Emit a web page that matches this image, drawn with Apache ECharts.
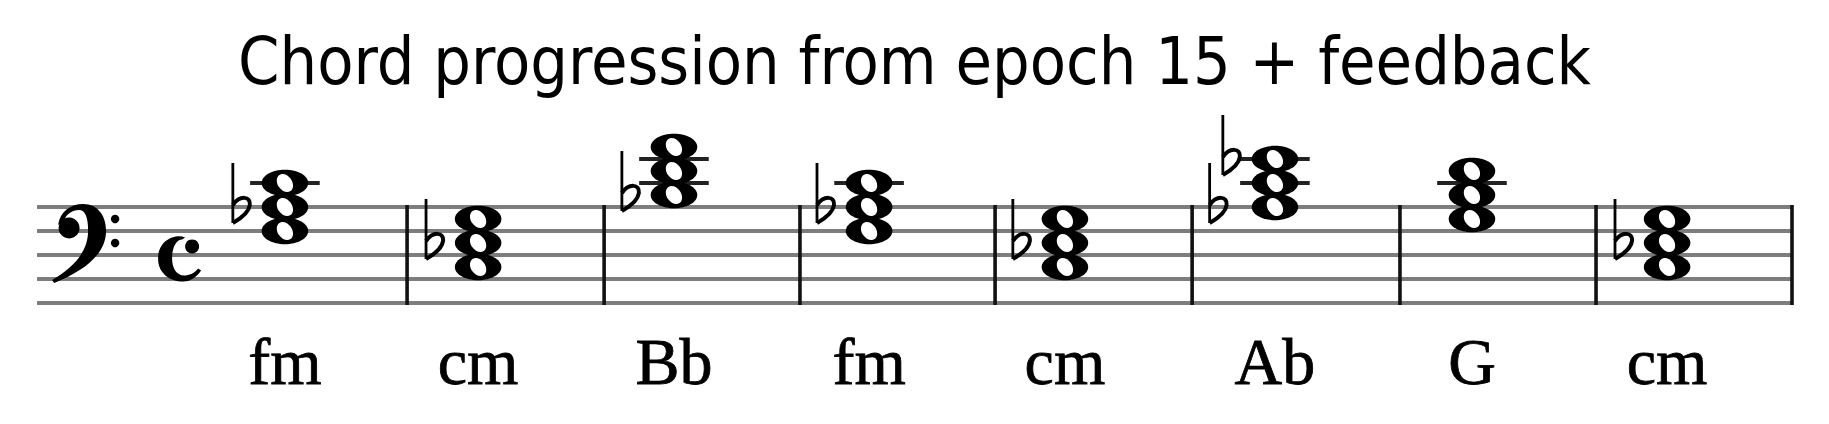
<!DOCTYPE html>
<html>
<head>
<meta charset="utf-8">
<script src="https://cdn.jsdelivr.net/npm/echarts@6/dist/echarts.min.js"></script>
<style>
html,body{margin:0;padding:0;background:#fff;}
#chart{width:1829px;height:424px;}
</style>
</head>
<body>
<div id="chart"></div>
<script>
// ---- data (x in staff spaces from the start of the staff, y in diatonic staff steps, 0 = bottom line G2) ----
const titleText = 'Chord progression from epoch 15 + feedback';
const chordNames = ['fm', 'cm', 'Bb', 'fm', 'cm', 'Ab', 'G', 'cm'];
const chordX = [10.33, 18.38, 26.54, 34.67, 42.83, 51.58, 59.79, 67.92];
const chordSteps = [[6, 8, 10], [3, 5, 7], [9, 11, 13], [6, 8, 10], [3, 5, 7], [8, 10, 12], [7, 9, 11], [3, 5, 7]];
const chordFlats = [[8], [5], [9], [8], [5], [12, 8], [], [5]];
const barlineX = [15.42, 23.63, 31.79, 39.92, 48.13, 56.79, 64.96, 73.125];
const staffLineSteps = [0, 2, 4, 6, 8];
const staffStartX = 0;
const staffEndX = 73.125;
const clefX = 0.67;       // bass clef anchored on the F line
const clefStep = 6;
const timeSigX = 5.92;    // common time
const timeSigStep = 3.8;
const chordNameRow = -4.9;

// ---- derived mark data ----
const staffData = staffLineSteps.map(s => [staffStartX, staffEndX, s]);
const barData = barlineX.map(x => [x, 0, 8]);
const headData = [];
const ledgerData = [];
const flatData = [];
chordX.forEach((x, i) => {
  const steps = chordSteps[i];
  steps.forEach(s => headData.push([x, s]));
  const top = Math.max.apply(null, steps);
  for (let l = 10; l <= top; l += 2) ledgerData.push([x, l]);
  const low = Math.min.apply(null, steps);
  for (let l = -2; l >= low; l -= 2) ledgerData.push([x, l]);
  chordFlats[i].forEach((s, col) => flatData.push([x - 2.17 - col * 0.55, s]));
});
const nameData = chordX.map((x, i) => [x, chordNameRow, chordNames[i]]);

// glyph outlines, drawn at 24px per staff space and scaled by the axis
const CLEF_PATH = 'M5,-6 C7,-20 18,-27 30,-27 C45,-27 53,-15 53,0 C53,23 31,40 1,52 L-1,49 C23,35 35,19 35,0 C35,-14 32,-21 26,-21 C19,-21 13,-17 11,-10 Z';
const COMMON_PATH = 'M6,-20 C-3,-24 -21,-18 -21,1 C-21,16 -9,24 4,24 C12,24 18,19 22,13 L19,11 C15,16 10,18 5,18 C-3,18 -7,10 -7,1 C-7,-10 -3,-18 3,-18 Z';
const FLAT_STEM = 'M0,-44 L0,16';
const FLAT_LOOP = 'M0,-2 C7,-12 18,-11 17,-2 C16,6 7,12 0,16';

const staffColor = '#7d7d7d';

function spacePx(api) { return api.size([0, 2])[1]; }

const chart = echarts.init(document.getElementById('chart'), null, {renderer: 'svg'});
chart.setOption({
  animation: false,
  backgroundColor: '#ffffff',
  title: {
    text: titleText,
    left: 'center',
    top: 23,
    textStyle: {
      fontFamily: "'DejaVu Sans Condensed', 'DejaVu Sans'",
      fontWeight: 'normal',
      fontSize: 66,
      lineHeight: 66,
      color: '#000'
    }
  },
  grid: {left: 37, right: 37, top: 39, bottom: 1},
  xAxis: {type: 'value', min: 0, max: 73.125, show: false},
  yAxis: {type: 'value', min: -10, max: 22, show: false},
  series: [
    {
      name: 'staff', type: 'custom', z: 1, silent: true,
      encode: {x: [0, 1], y: 2},
      data: staffData,
      renderItem: function (params, api) {
        const a = api.coord([api.value(0), api.value(2)]);
        const b = api.coord([api.value(1), api.value(2)]);
        return {type: 'line', shape: {x1: a[0], y1: a[1], x2: b[0], y2: b[1]},
          style: {stroke: staffColor, lineWidth: 4.2}};
      }
    },
    {
      name: 'barlines', type: 'custom', z: 2, silent: true,
      encode: {x: 0, y: [1, 2]},
      data: barData,
      renderItem: function (params, api) {
        const a = api.coord([api.value(0), api.value(1)]);
        const b = api.coord([api.value(0), api.value(2)]);
        return {type: 'line', shape: {x1: a[0], y1: a[1] + 2, x2: b[0], y2: b[1] - 2},
          style: {stroke: '#111', lineWidth: 3.6}};
      }
    },
    {
      name: 'ledger', type: 'custom', z: 3, silent: true,
      encode: {x: 0, y: 1},
      data: ledgerData,
      renderItem: function (params, api) {
        const p = api.coord([api.value(0), api.value(1)]);
        const sp = spacePx(api);
        return {type: 'line', shape: {x1: p[0] - 1.45 * sp, y1: p[1], x2: p[0] + 1.45 * sp, y2: p[1]},
          style: {stroke: '#222', lineWidth: 4}};
      }
    },
    {
      name: 'notes', type: 'custom', z: 4, silent: true,
      encode: {x: 0, y: 1},
      data: headData,
      renderItem: function (params, api) {
        const p = api.coord([api.value(0), api.value(1)]);
        const sp = spacePx(api);
        return {
          type: 'group',
          children: [
            {type: 'ellipse', shape: {cx: p[0], cy: p[1], rx: 0.97 * sp, ry: 0.55 * sp}, style: {fill: '#000'}},
            {type: 'ellipse', x: p[0], y: p[1], rotation: 0.6,
              shape: {cx: 0, cy: 0, rx: 0.3 * sp, ry: 0.41 * sp}, style: {fill: '#fff'}}
          ]
        };
      }
    },
    {
      name: 'flats', type: 'custom', z: 5, silent: true,
      encode: {x: 0, y: 1},
      data: flatData,
      renderItem: function (params, api) {
        const p = api.coord([api.value(0), api.value(1)]);
        const k = spacePx(api) / 24;
        return {
          type: 'group', x: p[0], y: p[1], scaleX: k, scaleY: k,
          children: [
            {type: 'path', shape: {pathData: FLAT_STEM}, style: {fill: 'none', stroke: '#000', lineWidth: 2.8}},
            {type: 'path', shape: {pathData: FLAT_LOOP}, style: {fill: 'none', stroke: '#000', lineWidth: 4}}
          ]
        };
      }
    },
    {
      name: 'clef', type: 'custom', z: 5, silent: true,
      encode: {x: 0, y: 1},
      data: [[clefX, clefStep]],
      renderItem: function (params, api) {
        const p = api.coord([api.value(0), api.value(1)]);
        const k = spacePx(api) / 24;
        return {
          type: 'group', x: p[0], y: p[1], scaleX: k, scaleY: k,
          children: [
            {type: 'path', shape: {pathData: CLEF_PATH}, style: {fill: '#000'}},
            {type: 'circle', shape: {cx: 16, cy: -3, r: 10.5}, style: {fill: '#000'}},
            {type: 'circle', shape: {cx: 62, cy: -12, r: 4.2}, style: {fill: '#000'}},
            {type: 'circle', shape: {cx: 62, cy: 12, r: 4.2}, style: {fill: '#000'}}
          ]
        };
      }
    },
    {
      name: 'time', type: 'custom', z: 5, silent: true,
      encode: {x: 0, y: 1},
      data: [[timeSigX, timeSigStep]],
      renderItem: function (params, api) {
        const p = api.coord([api.value(0), api.value(1)]);
        const k = spacePx(api) / 24;
        return {
          type: 'group', x: p[0], y: p[1], scaleX: k, scaleY: k,
          children: [
            {type: 'path', shape: {pathData: COMMON_PATH}, style: {fill: '#000'}},
            {type: 'circle', shape: {cx: 13, cy: -11, r: 7}, style: {fill: '#000'}}
          ]
        };
      }
    },
    {
      name: 'chord names', type: 'custom', z: 6, silent: true,
      encode: {x: 0, y: 1},
      data: nameData,
      renderItem: function (params, api) {
        const p = api.coord([api.value(0), api.value(1)]);
        return {
          type: 'text', x: p[0], y: p[1],
          style: {
            text: nameData[params.dataIndex][2],
            fontFamily: "'Liberation Serif', serif",
            fontSize: 66,
            fill: '#000',
            stroke: '#000',
            lineWidth: 0.8,
            align: 'center',
            verticalAlign: 'middle'
          }
        };
      }
    }
  ]
});
</script>
</body>
</html>
